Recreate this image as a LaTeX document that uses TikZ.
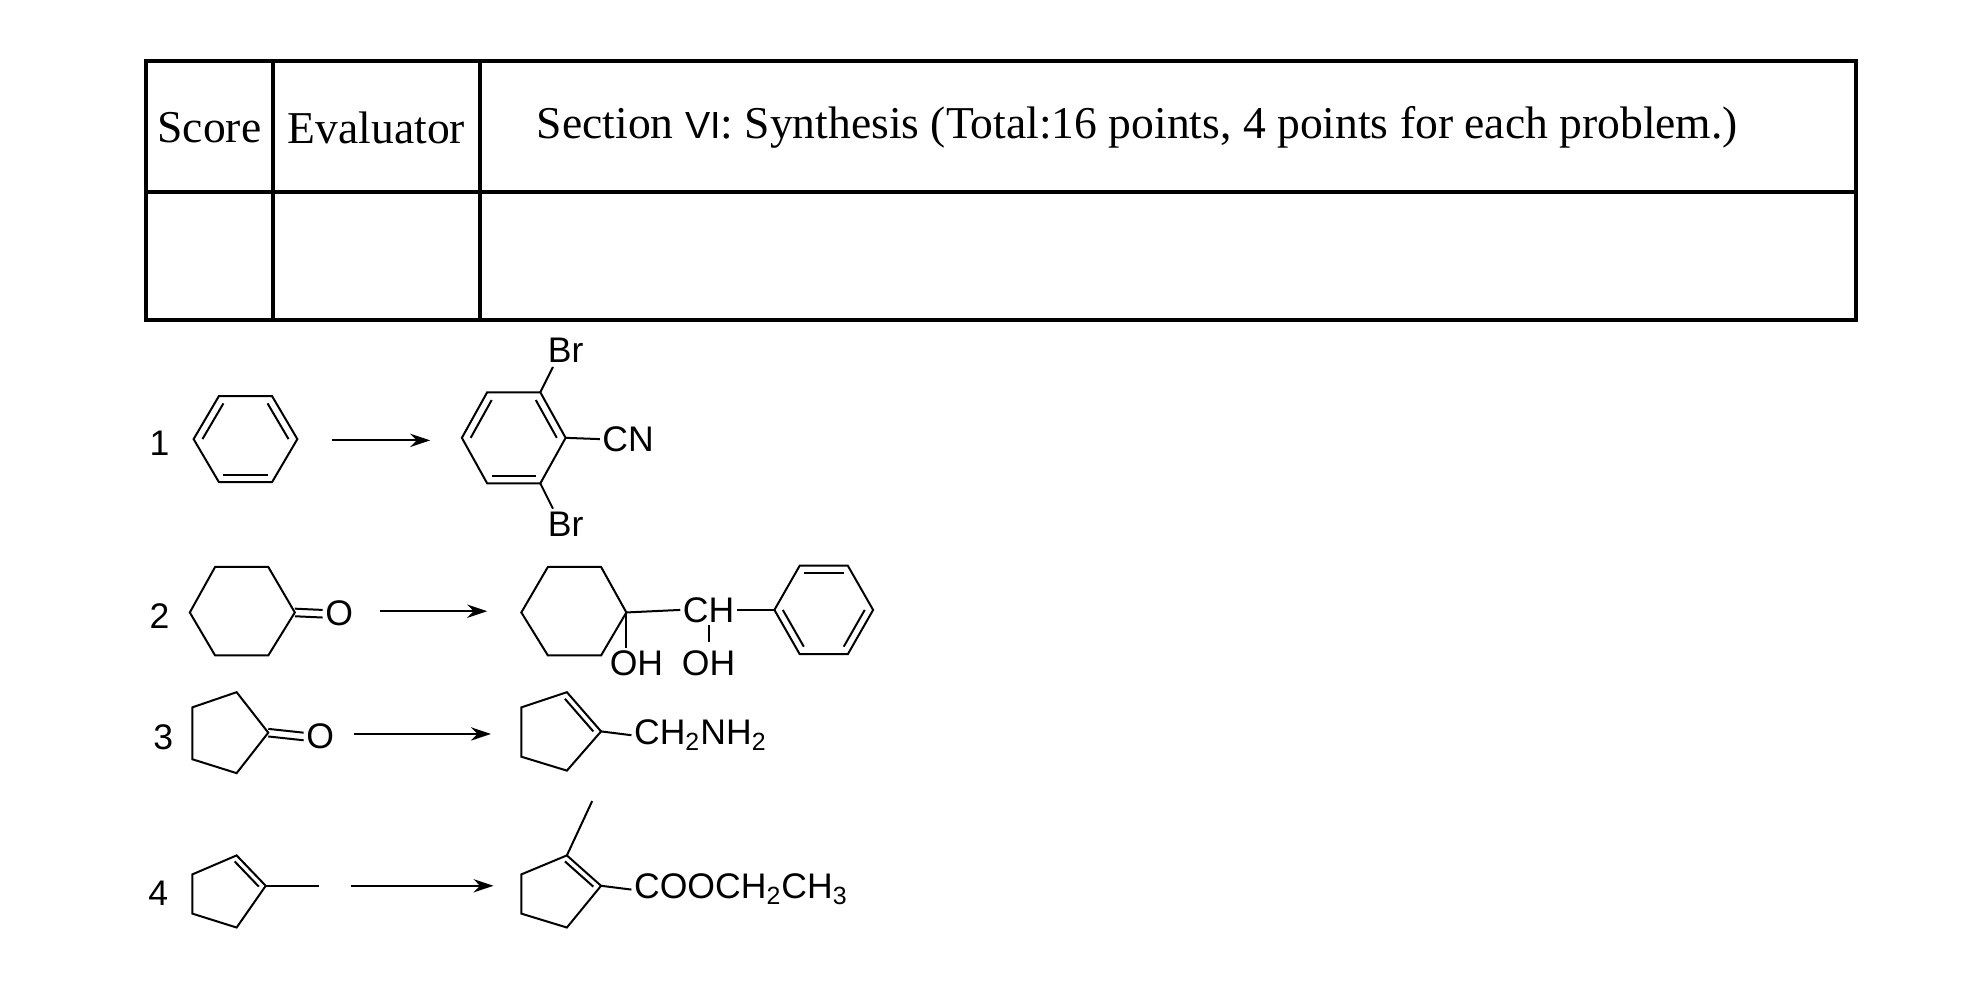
\documentclass[tikz,border=0pt]{standalone}
\usepackage{fontspec}
\setmainfont{Liberation Serif}
\newfontfamily\chemf{Liberation Sans}
\usetikzlibrary{calc,arrows.meta}
\begin{document}
\begin{tikzpicture}[x=0.02cm,y=-0.02cm,
  bond/.style={line width=0.9pt},
  grid/.style={line width=1.8pt},
  rxn/.style={line width=0.9pt,-{Stealth[length=9pt,width=6pt]}},
  lab/.style={font=\chemf\fontsize{16}{18}\selectfont,inner sep=1pt},
  tab/.style={font=\fontsize{20.5}{24}\selectfont,inner sep=0pt}]
\useasboundingbox (0,0) rectangle (1560,796);
\newcommand{\inb}[3]{\draw[bond] ($(#1)!0.17!(#3)$) -- ($(#2)!0.17!(#3)$);}
% table
\draw[grid] (115,48) rectangle (1467,253);
\draw[grid] (115,152) -- (1467,152);
\draw[grid] (216,48) -- (216,253);
\draw[grid] (379,48) -- (379,253);
\node[tab] (s) at (165.5,101) {Score};
\node[tab] (e) at (297.5,101) {Evaluator};
\node[tab,anchor=west] (t) at (424,101) {Section {\chemf\fontsize{17}{20}\selectfont VI}: Synthesis (Total:16 points, 4 points for each problem.)};
% row 1
\node[lab] (n1) at (126,350) {1};
\coordinate (a1) at (173,313); \coordinate (a2) at (215,313); \coordinate (a3) at (235,347);
\coordinate (a4) at (215,381); \coordinate (a5) at (173,381); \coordinate (a6) at (153,347); \coordinate (ac) at (194,347);
\draw[bond] (a1)--(a2)--(a3)--(a4)--(a5)--(a6)--cycle;
\inb{a6}{a1}{ac} \inb{a2}{a3}{ac} \inb{a4}{a5}{ac}
\coordinate (r1s) at (262,348); \coordinate (r1e) at (340,348);
\draw[rxn] (r1s) -- (r1e);
\coordinate (b1) at (385,310); \coordinate (b2) at (427,310); \coordinate (b3) at (447,346);
\coordinate (b4) at (427,382); \coordinate (b5) at (385,382); \coordinate (b6) at (365,346); \coordinate (bc) at (406,346);
\draw[bond] (b1)--(b2)--(b3)--(b4)--(b5)--(b6)--cycle;
\inb{b6}{b1}{bc} \inb{b2}{b3}{bc} \inb{b4}{b5}{bc}
\node[lab] (br1) at (447,277) {Br};
\node[lab] (br2) at (447,414) {Br};
\node[lab,anchor=west] (cn) at (474,347) {CN};
\draw[bond] (b2) -- (437,290);
\draw[bond] (b4) -- (437,402);
\draw[bond] (b3) -- (cn.west);
% row 2
\node[lab] (n2) at (126,487) {2};
\coordinate (c1) at (170,448); \coordinate (c2) at (212,448); \coordinate (c3) at (233,484);
\coordinate (c4) at (212,518); \coordinate (c5) at (170,518); \coordinate (c6) at (150,484);
\draw[bond] (c1)--(c2)--(c3)--(c4)--(c5)--(c6)--cycle;
\node[lab] (o2) at (268,485) {O};
\draw[bond] ($(c3)+(0,-3)$) -- ($(o2.west)+(0,-3)$);
\draw[bond] ($(c3)+(0,3)$) -- ($(o2.west)+(0,3)$);
\draw[rxn] (300,483) -- (385,483);
\coordinate (d1) at (433,448); \coordinate (d2) at (475,448); \coordinate (d3) at (495,484);
\coordinate (d4) at (475,518); \coordinate (d5) at (433,518); \coordinate (d6) at (412,484);
\draw[bond] (d1)--(d2)--(d3)--(d4)--(d5)--(d6)--cycle;
\node[lab] (ch) at (560,482) {CH};
\node[lab] (oh1) at (503,524) {OH};
\node[lab] (oh2) at (560,524) {OH};
\draw[bond] (d3) -- (ch.west);
\draw[bond] (d3) -- (495,512);
\draw[bond] (560,494) -- (560,507);
\coordinate (p1) at (632,447); \coordinate (p2) at (670,447); \coordinate (p3) at (690,482);
\coordinate (p4) at (670,517); \coordinate (p5) at (632,517); \coordinate (p6) at (612,482); \coordinate (pc) at (651,482);
\draw[bond] (p1)--(p2)--(p3)--(p4)--(p5)--(p6)--cycle;
\inb{p1}{p2}{pc} \inb{p3}{p4}{pc} \inb{p5}{p6}{pc}
\draw[bond] (ch.east) -- (p6);
% row 3
\node[lab] (n3) at (129,583) {3};
\coordinate (e1) at (152,559); \coordinate (e2) at (187,547); \coordinate (e3) at (212,579);
\coordinate (e4) at (187,611); \coordinate (e5) at (152,600);
\draw[bond] (e1)--(e2)--(e3)--(e4)--(e5)--cycle;
\node[lab] (o3) at (253,582) {O};
\draw[bond] ($(e3)+(0,-3)$) -- ($(o3.west)+(0,-3)$);
\draw[bond] ($(e3)+(0,3)$) -- ($(o3.west)+(0,3)$);
\draw[rxn] (280,580) -- (388,580);
\coordinate (f1) at (412,559); \coordinate (f2) at (448,547); \coordinate (f3) at (475,578);
\coordinate (f4) at (448,609); \coordinate (f5) at (412,598); \coordinate (fc) at (439,578);
\draw[bond] (f1)--(f2)--(f3)--(f4)--(f5)--cycle;
\inb{f2}{f3}{fc}
\node[lab,anchor=west] (am) at (499,581) {CH\textsubscript{2}NH\textsubscript{2}};
\draw[bond] (f3) -- (am.west);
% row 4
\node[lab] (n4) at (125,706) {4};
\coordinate (g1) at (152,691); \coordinate (g2) at (187,676); \coordinate (g3) at (210,700);
\coordinate (g4) at (187,733); \coordinate (g5) at (152,722); \coordinate (gc) at (178,704);
\draw[bond] (g1)--(g2)--(g3)--(g4)--(g5)--cycle;
\inb{g2}{g3}{gc}
\coordinate (gm) at (252,700);
\draw[bond] (g3) -- (gm);
\draw[rxn] (277,700) -- (390,700);
\coordinate (h1) at (412,691); \coordinate (h2) at (448,676); \coordinate (h3) at (475,700);
\coordinate (h4) at (448,733); \coordinate (h5) at (412,722); \coordinate (hc) at (439,704);
\draw[bond] (h1)--(h2)--(h3)--(h4)--(h5)--cycle;
\inb{h2}{h3}{hc}
\coordinate (hm) at (468,633);
\draw[bond] (h2) -- (hm);
\node[lab,anchor=west] (es) at (499,703) {COOCH\textsubscript{2}CH\textsubscript{3}};
\draw[bond] (h3) -- (es.west);
\end{tikzpicture}
\end{document}
